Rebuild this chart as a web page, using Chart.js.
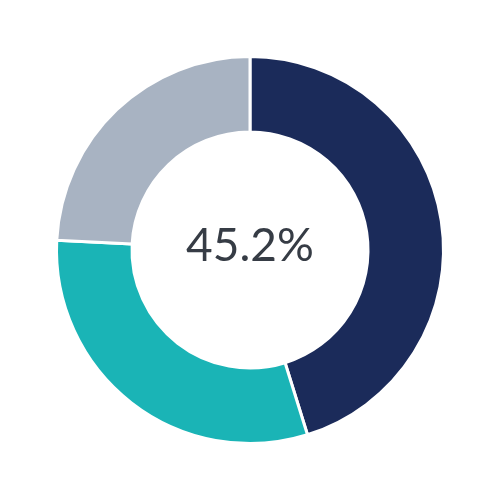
<!DOCTYPE html>
<html>
<head>
<meta charset="utf-8">
<script src="https://cdn.jsdelivr.net/npm/chart.js@4/dist/chart.umd.min.js"></script>
<style>
  html, body { margin: 0; padding: 0; background: #fff; }
  #wrap { width: 500px; height: 500px; }
</style>
</head>
<body>
<div id="wrap"><canvas id="donut"></canvas></div>
<script>
// values (percent)
const labels = ['Navy', 'Teal', 'Grey'];
const shares = [45.2, 30.6, 24.2];
const colors = ['#1b2b5a', '#1ab4b6', '#a8b3c2'];
const centerLabel = '45.2%';

// text in the hole
const centerText = {
    id: 'centerText',
    afterDraw(chart) {
        const { ctx, chartArea } = chart;
        const cx = (chartArea.left + chartArea.right) / 2;
        const cy = (chartArea.top + chartArea.bottom) / 2;
        ctx.save();
        ctx.font = '400 46px Lato';
        ctx.fillStyle = '#363c45';
        ctx.textAlign = 'center';
        ctx.textBaseline = 'middle';
        ctx.fillText(centerLabel, cx, cy - 4);
        ctx.restore();
    }
};

new Chart(document.getElementById('donut'), {
    type: 'doughnut',
    data: {
        labels: labels,
        datasets: [{
            data: shares,
            backgroundColor: colors,
            borderColor: '#ffffff',
            borderWidth: 3
        }]
    },
    options: {
        responsive: true, maintainAspectRatio: false,
        animation: false,
        cutout: '61%',
        layout: { padding: 55 },
        plugins: { legend: { display: false }, tooltip: { enabled: false } }
    },
    plugins: [centerText]
});
</script>
</body>
</html>
